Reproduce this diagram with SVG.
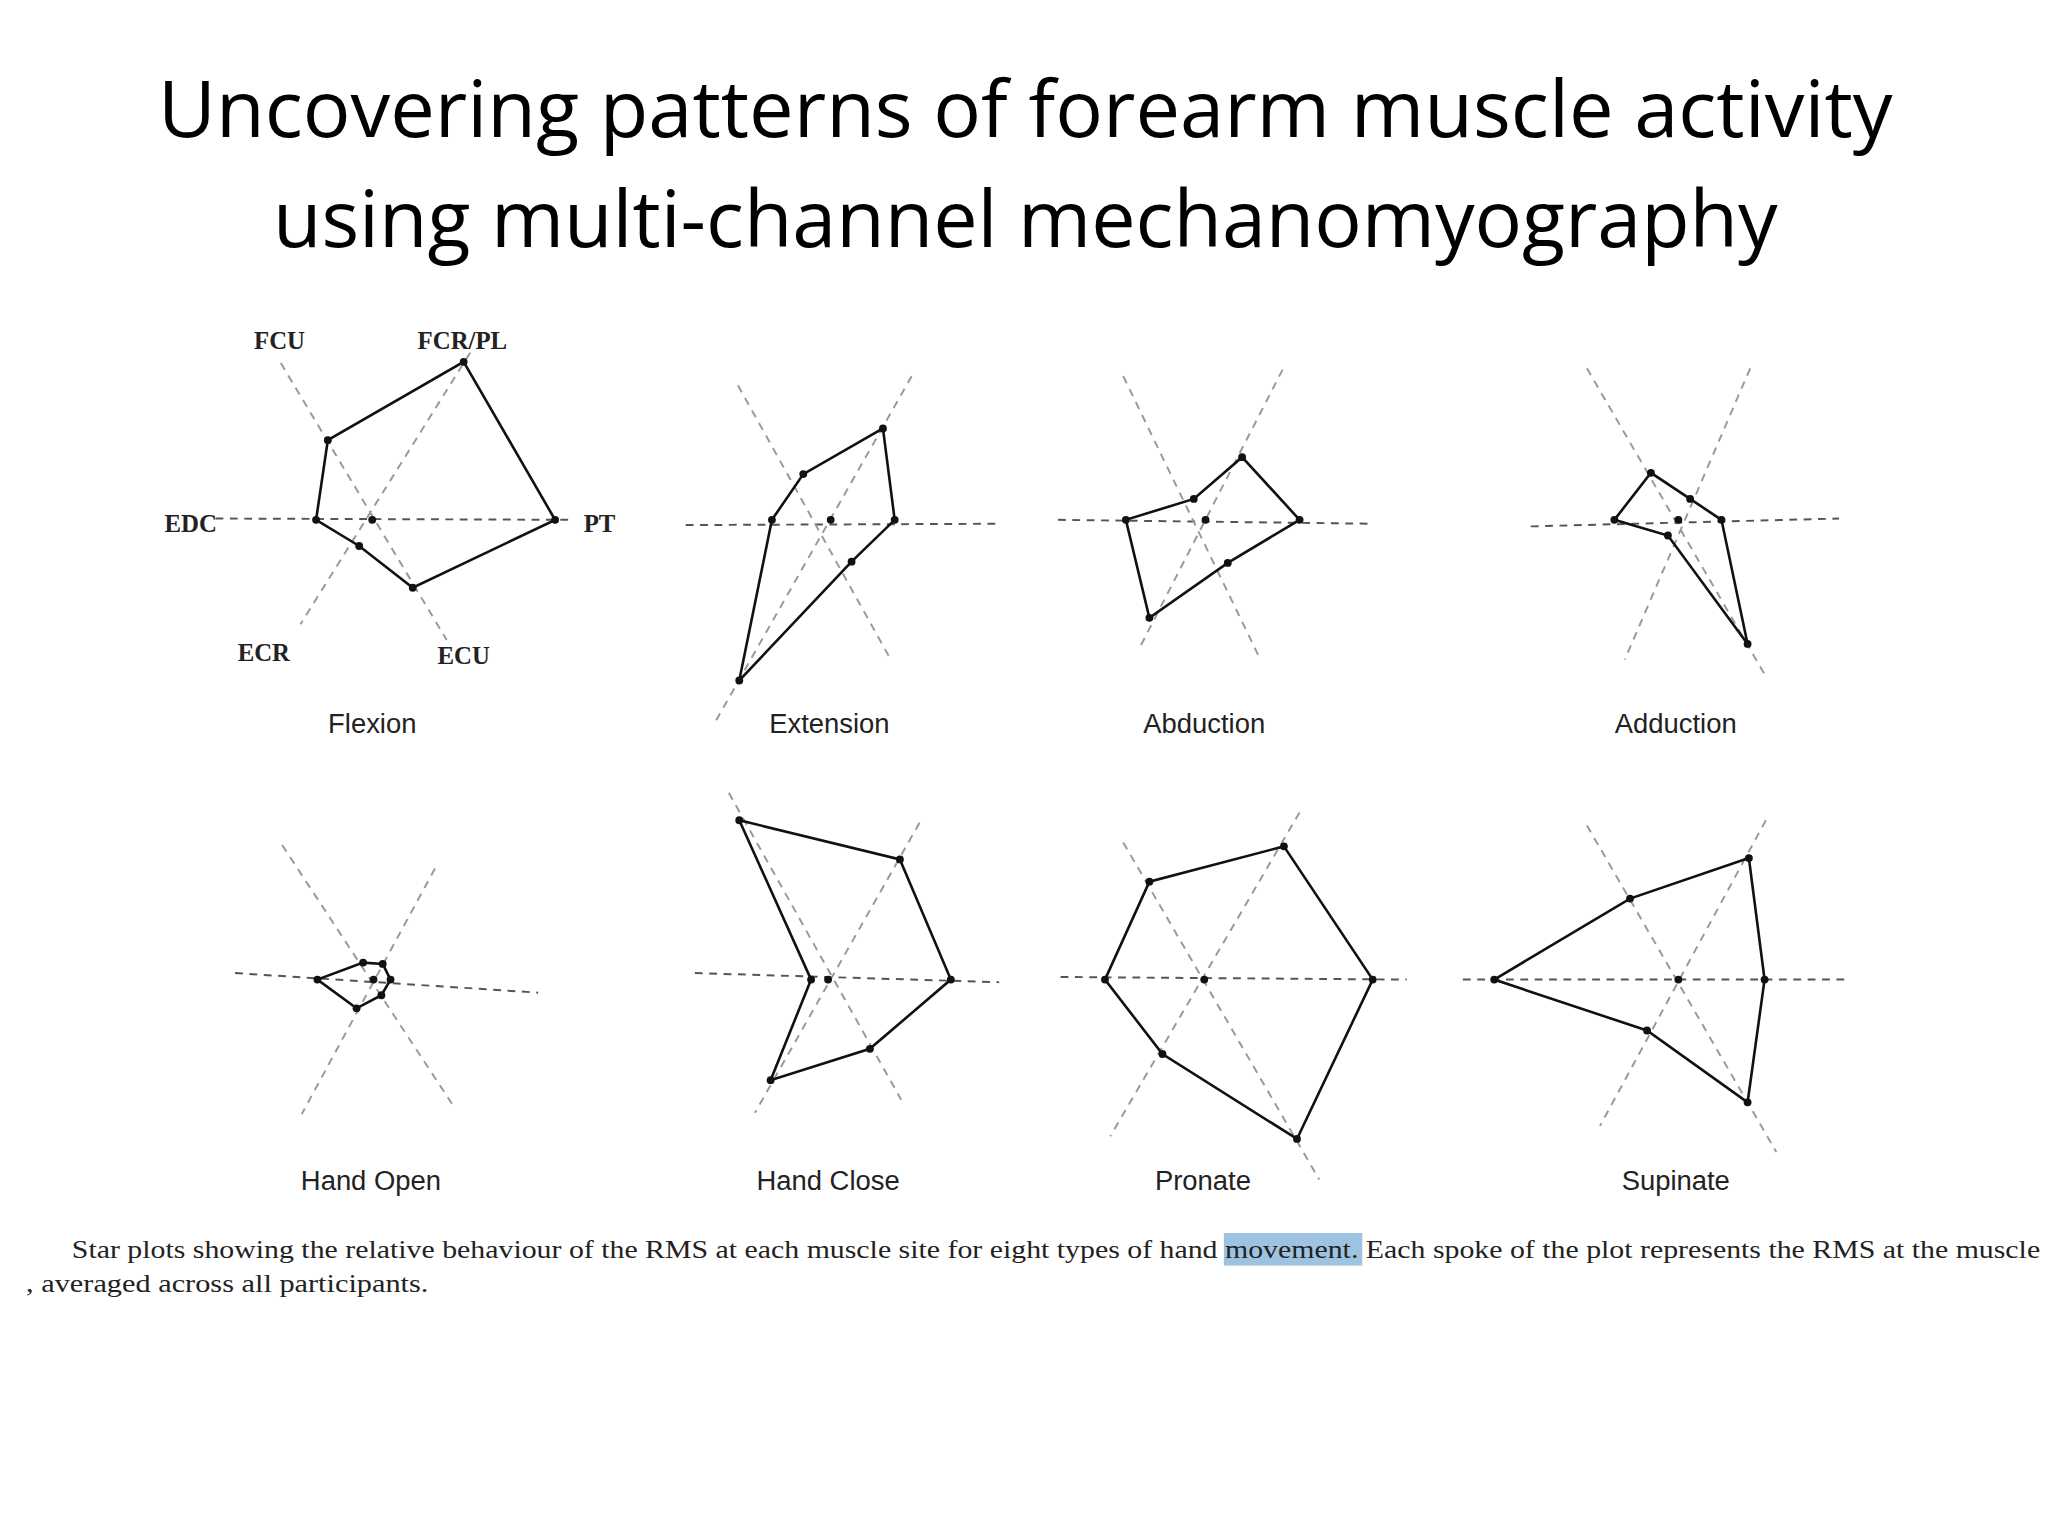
<svg xmlns="http://www.w3.org/2000/svg" width="2048" height="1536" viewBox="0 0 2048 1536">
<style>
.t{font-family:"Open Sans","Noto Sans",sans-serif;font-size:60px;fill:#000;text-anchor:middle}
.ax{font-family:"Liberation Serif",serif;font-size:19px;font-weight:bold;fill:#222;text-anchor:middle}
.pl{font-family:"Liberation Sans",Arial,sans-serif;font-size:21px;fill:#222;text-anchor:middle}
.cap{font-family:"Liberation Serif",serif;font-size:19.5px;fill:#222}
.h{stroke:#555;stroke-width:1.5;stroke-dasharray:6,5;fill:none}
.d{stroke:#999;stroke-width:1.5;stroke-dasharray:6,5;fill:none}
.p{stroke:#111;stroke-width:2;fill:none}
.dot{fill:#111}
</style>
<rect width="2048" height="1536" fill="#fff"/>
<g transform="scale(1.30612)">
<g id="title">
<text class="t" x="785" y="105" textLength="1328" lengthAdjust="spacingAndGlyphs">Uncovering patterns of forearm muscle activity</text>
<text class="t" x="785" y="189" textLength="1152" lengthAdjust="spacingAndGlyphs">using multi-channel mechanomyography</text>
</g>
<g id="connectors">
<path class="h" d="M165 397L440 398M525 402L765 401M810 398L1052 401M1172 403L1408 397M180 745L412 760M532 745L765 752M812 748L1077 750M1120 750L1413 750"/>
<path class="d" d="M215 278L342 490M360 270L230 478M565 295L682 505M698 288L548 552M860 288L965 505M982 283L872 497M1215 282L1352 518M1340 282L1244 505M216 647L346 845M333 665L231 853M558 607L690 842M704 630L578 852M860 645L1010 903M995 622L850 870M1215 632L1360 882M1352 628L1225 862"/>
</g>
<g id="flexion">
<polygon class="p" points="355,277 425,398 316,450 275,418 242,398 251,337"/>
<g class="dot"><circle cx="355" cy="277" r="3"/><circle cx="425" cy="398" r="3"/><circle cx="316" cy="450" r="3"/><circle cx="275" cy="418" r="3"/><circle cx="242" cy="398" r="3"/><circle cx="251" cy="337" r="3"/><circle cx="285" cy="398" r="3"/></g>
<text class="ax" x="214" y="267">FCU</text><text class="ax" x="354" y="267">FCR/PL</text><text class="ax" x="146" y="407">EDC</text><text class="ax" x="459" y="407">PT</text><text class="ax" x="202" y="506">ECR</text><text class="ax" x="355" y="508">ECU</text>
<text class="pl" x="285" y="561">Flexion</text>
</g>
<g id="extension">
<polygon class="p" points="676,328 685,398 652,430 566,521 591,398 615,363"/>
<g class="dot"><circle cx="676" cy="328" r="3"/><circle cx="685" cy="398" r="3"/><circle cx="652" cy="430" r="3"/><circle cx="566" cy="521" r="3"/><circle cx="591" cy="398" r="3"/><circle cx="615" cy="363" r="3"/><circle cx="636" cy="398" r="3"/></g>
<text class="pl" x="635" y="561">Extension</text>
</g>
<g id="abduction">
<polygon class="p" points="951,350 995,398 940,431 880,473 862,398 914,382"/>
<g class="dot"><circle cx="951" cy="350" r="3"/><circle cx="995" cy="398" r="3"/><circle cx="940" cy="431" r="3"/><circle cx="880" cy="473" r="3"/><circle cx="862" cy="398" r="3"/><circle cx="914" cy="382" r="3"/><circle cx="923" cy="398" r="3"/></g>
<text class="pl" x="922" y="561">Abduction</text>
</g>
<g id="adduction">
<polygon class="p" points="1294,382 1318,398 1338,493 1277,410 1236,398 1264,362"/>
<g class="dot"><circle cx="1294" cy="382" r="3"/><circle cx="1318" cy="398" r="3"/><circle cx="1338" cy="493" r="3"/><circle cx="1277" cy="410" r="3"/><circle cx="1236" cy="398" r="3"/><circle cx="1264" cy="362" r="3"/><circle cx="1285" cy="398" r="3"/></g>
<text class="pl" x="1283" y="561">Adduction</text>
</g>
<g id="handopen">
<polygon class="p" points="293,738 299,750 292,762 273,772 243,750 278,737"/>
<g class="dot"><circle cx="293" cy="738" r="3"/><circle cx="299" cy="750" r="3"/><circle cx="292" cy="762" r="3"/><circle cx="273" cy="772" r="3"/><circle cx="243" cy="750" r="3"/><circle cx="278" cy="737" r="3"/><circle cx="286" cy="750" r="3"/></g>
<text class="pl" x="284" y="911">Hand Open</text>
</g>
<g id="handclose">
<polygon class="p" points="689,658 728,750 666,803 590,827 621,750 566,628"/>
<g class="dot"><circle cx="689" cy="658" r="3"/><circle cx="728" cy="750" r="3"/><circle cx="666" cy="803" r="3"/><circle cx="590" cy="827" r="3"/><circle cx="621" cy="750" r="3"/><circle cx="566" cy="628" r="3"/><circle cx="634" cy="750" r="3"/></g>
<text class="pl" x="634" y="911">Hand Close</text>
</g>
<g id="pronate">
<polygon class="p" points="983,648 1051,750 993,872 890,807 846,750 880,675"/>
<g class="dot"><circle cx="983" cy="648" r="3"/><circle cx="1051" cy="750" r="3"/><circle cx="993" cy="872" r="3"/><circle cx="890" cy="807" r="3"/><circle cx="846" cy="750" r="3"/><circle cx="880" cy="675" r="3"/><circle cx="922" cy="750" r="3"/></g>
<text class="pl" x="921" y="911">Pronate</text>
</g>
<g id="supinate">
<polygon class="p" points="1339,657 1351,750 1338,844 1261,789 1144,750 1248,688"/>
<g class="dot"><circle cx="1339" cy="657" r="3"/><circle cx="1351" cy="750" r="3"/><circle cx="1338" cy="844" r="3"/><circle cx="1261" cy="789" r="3"/><circle cx="1144" cy="750" r="3"/><circle cx="1248" cy="688" r="3"/><circle cx="1285" cy="750" r="3"/></g>
<text class="pl" x="1283" y="911">Supinate</text>
</g>
<g id="caption">
<rect x="937" y="944" width="106" height="25" fill="#9dc3e0"/>
<text class="cap" x="55" y="963" textLength="1507" lengthAdjust="spacingAndGlyphs">Star plots showing the relative behaviour of the RMS at each muscle site for eight types of hand movement. Each spoke of the plot represents the RMS at the muscle</text>
<text class="cap" x="20" y="989" textLength="308" lengthAdjust="spacingAndGlyphs">, averaged across all participants.</text>
</g>
</g>
</svg>
